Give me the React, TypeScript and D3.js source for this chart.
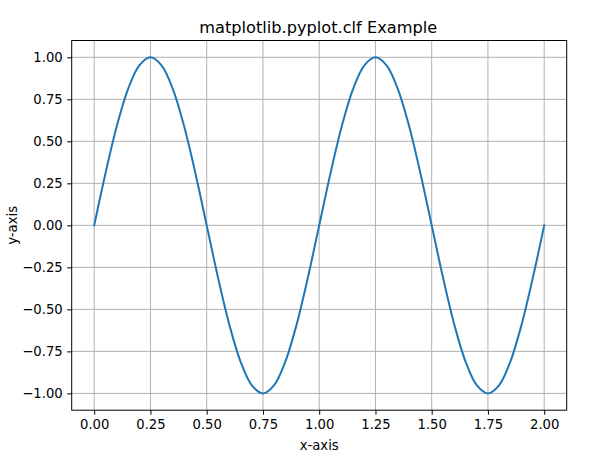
import { useEffect, useRef } from "react"
import * as d3 from "d3"

// sample points
const xValues = [
  0, 0.05, 0.1, 0.15, 0.2, 0.25, 0.3, 0.35, 0.4, 0.45, 0.5, 0.55, 0.6, 0.65, 0.7, 0.75, 0.8, 0.85, 0.9, 0.95,
  1, 1.05, 1.1, 1.15, 1.2, 1.25, 1.3, 1.35, 1.4, 1.45, 1.5, 1.55, 1.6, 1.65, 1.7, 1.75, 1.8, 1.85, 1.9, 1.95, 2,
]
const yValues = [
  0, 0.309, 0.588, 0.809, 0.951, 1, 0.951, 0.809, 0.588, 0.309, 0, -0.309, -0.588, -0.809, -0.951, -1, -0.951,
  -0.809, -0.588, -0.309, 0, 0.309, 0.588, 0.809, 0.951, 1, 0.951, 0.809, 0.588, 0.309, 0, -0.309, -0.588, -0.809,
  -0.951, -1, -0.951, -0.809, -0.588, -0.309, 0,
]
const xTicks = [0, 0.25, 0.5, 0.75, 1, 1.25, 1.5, 1.75, 2]
const yTicks = [-1, -0.75, -0.5, -0.25, 0, 0.25, 0.5, 0.75, 1]

const title = "matplotlib.pyplot.clf Example"
const xLabel = "x-axis"
const yLabel = "y-axis"

export default function App() {
  const svgRef = useRef<SVGSVGElement>(null)

  useEffect(() => {
    if (!svgRef.current) return
    const svg = d3.select(svgRef.current)
    svg.selectAll("*").remove()

    const left = 71.7
    const right = 566.7
    const top = 40.5
    const bottom = 410.2
    const font = "'DejaVu Sans', sans-serif"

    const x = d3.scaleLinear().domain([-0.1, 2.1]).range([left, right])
    const y = d3.scaleLinear().domain([-1.1, 1.1]).range([bottom, top])

    svg.append("rect").attr("width", 599).attr("height", 462).attr("fill", "#fff")

    // grid
    const grid = svg.append("g").attr("stroke", "#b0b0b0").attr("stroke-width", 1)
    xTicks.forEach((t) => {
      grid.append("line").attr("x1", x(t)).attr("x2", x(t)).attr("y1", top).attr("y2", bottom)
    })
    yTicks.forEach((t) => {
      grid.append("line").attr("x1", left).attr("x2", right).attr("y1", y(t)).attr("y2", y(t))
    })

    // curve
    const pts = xValues.map((v, i) => [v, yValues[i]] as [number, number])
    const line = d3
      .line<[number, number]>()
      .x((d) => x(d[0]))
      .y((d) => y(d[1]))
      .curve(d3.curveCatmullRom.alpha(0.5))
    svg
      .append("path")
      .datum(pts)
      .attr("fill", "none")
      .attr("stroke", "#1f77b4")
      .attr("stroke-width", 2)
      .attr("stroke-linejoin", "round")
      .attr("stroke-linecap", "square")
      .attr("d", line)

    // axes
    const fmt = (d: d3.NumberValue) => d3.format(".2f")(d as number).replace("-", "\u2212")
    const xAxis = svg
      .append("g")
      .attr("transform", `translate(0,${bottom})`)
      .call(d3.axisBottom(x).tickValues(xTicks).tickFormat(fmt).tickSize(4.5).tickPadding(4.5))
    const yAxis = svg
      .append("g")
      .attr("transform", `translate(${left},0)`)
      .call(d3.axisLeft(y).tickValues(yTicks).tickFormat(fmt).tickSize(4.5).tickPadding(4.5))
    ;[xAxis, yAxis].forEach((a) => {
      a.select(".domain").remove()
      a.selectAll("line").attr("stroke", "#000").attr("stroke-width", 1)
      a.selectAll("text").attr("fill", "#000").style("font-family", font).style("font-size", "13.2px")
    })

    // frame
    svg
      .append("rect")
      .attr("x", left)
      .attr("y", top)
      .attr("width", right - left)
      .attr("height", bottom - top)
      .attr("fill", "none")
      .attr("stroke", "#000")
      .attr("stroke-width", 1)

    svg
      .append("text")
      .attr("x", (left + right) / 2 - 1)
      .attr("y", 33)
      .attr("text-anchor", "middle")
      .style("font-family", font)
      .style("font-size", "16.2px")
      .text(title)

    svg
      .append("text")
      .attr("x", (left + right) / 2)
      .attr("y", 449.5)
      .attr("text-anchor", "middle")
      .style("font-family", font)
      .style("font-size", "13.2px")
      .text(xLabel)

    svg
      .append("text")
      .attr("transform", `translate(17,${(top + bottom) / 2}) rotate(-90)`)
      .attr("text-anchor", "middle")
      .style("font-family", font)
      .style("font-size", "13.2px")
      .text(yLabel)
  }, [])

  return (
    <svg
      ref={svgRef}
      width={599}
      height={462}
      style={{ position: "absolute", left: 0, top: 0, display: "block" }}
    />
  )
}
